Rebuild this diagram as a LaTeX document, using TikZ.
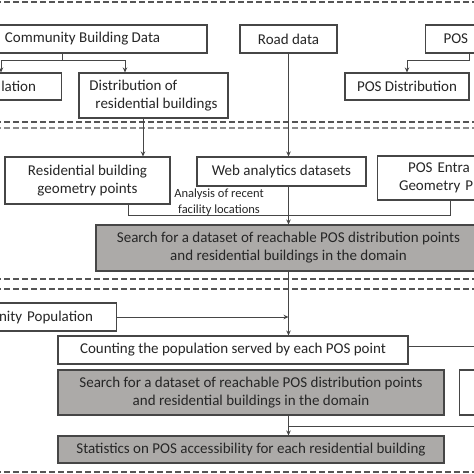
\documentclass[tikz,border=0pt]{standalone}
\usepackage{fontspec}
\setmainfont{Carlito}
\usetikzlibrary{arrows.meta,calc}
\definecolor{edgecol}{RGB}{70,70,70}
\definecolor{boxgray}{RGB}{172,170,168}
\definecolor{sepdark}{RGB}{85,85,85}
\definecolor{seplight}{RGB}{140,140,140}
\begin{document}
\begin{tikzpicture}[x=1pt,y=-1pt,
  box/.style={draw=edgecol,line width=1.1pt,fill=white,inner sep=0pt,align=center,font=\fontsize{15}{18}\selectfont,text=black!85},
  graybox/.style={box,fill=boxgray},
  conn/.style={draw=edgecol,line width=0.9pt},
  arr/.style={conn,-{Stealth[length=5pt,width=4.5pt]}},
  sepd/.style={draw=sepdark,line width=2pt,dash pattern=on 6pt off 3pt},
  sepl/.style={draw=seplight,line width=1.2pt,dash pattern=on 6pt off 3pt},
  anatext/.style={font=\fontsize{12.5}{16}\selectfont,text=black!85,inner sep=0pt,align=center}]
\useasboundingbox (0,0) rectangle (474,474);
\clip (0,0) rectangle (474,474);
% separators
\draw[sepd] (-5,1.5) -- (480,1.5);
\draw[sepd] (-5,121.5) -- (480,121.5);
\draw[sepl] (-5,128) -- (480,128);
\draw[sepd] (-5,279) -- (480,279);
\draw[sepd] (-5,288.5) -- (480,288.5);
\draw[sepd] (-5,472) -- (480,472);
% panel 1
\node[box,minimum width=249,minimum height=28] (cbd) at (82.5,39) {Community Building Data};
\node[box,minimum width=97,minimum height=28] (road) at (288.5,39) {Road data};
\node[box,anchor=west,minimum height=28,text width=90,inner xsep=18,align=left] (posd) at (425,39) {POS};
\node[box,anchor=east,minimum height=27,text width=90,inner xsep=25.5,align=right] (popl) at (62,86.5) {lation};
\node[box,minimum width=149,minimum height=45,align=left] (dist) at (153.5,95.5) {Distribution of\\\hspace*{6pt}residential buildings};
\node[box,minimum width=124,minimum height=27] (posdist) at (407,86.5) {POS Distribution};
% panel 2
\node[box,minimum width=165,minimum height=47] (resgeo) at (87.5,180.5) {Residential building\\geometry points};
\node[box,minimum width=169,minimum height=29] (web) at (281.5,171.5) {Web analytics datasets};
\node[box,anchor=west,minimum height=44,text width=90,inner xsep=21.5,align=left] (posent) at (377,178) {\hspace*{9pt}POS Entra\\Geometry P};
\node[anatext] (ana) at (219,202) {Analysis of recent\\facility locations};
\node[graybox,minimum width=385,minimum height=46] (search1) at (288.5,248) {Search for a dataset of reachable POS distribution points\\and residential buildings in the domain};
% panel 3
\node[box,anchor=east,minimum height=28,text width=100,inner xsep=23.5,align=right] (compop) at (117,317) {nity Population};
\node[box,minimum width=350,minimum height=28] (count) at (233,350) {Counting the population served by each POS point};
\node[graybox,minimum width=386,minimum height=45] (search2) at (251,392.5) {Search for a dataset of reachable POS distribution points\\and residential buildings in the domain};
\node[box,anchor=west,minimum width=100,minimum height=45] (rbox) at (459,392.5) {};
\node[graybox,minimum width=386,minimum height=27] (stats) at (251,449.5) {Statistics on POS accessibility for each residential building};
% connectors panel 1
\coordinate (j1) at (62,60);
\coordinate (jl) at (1,60);
\coordinate (jr) at (125,60);
\draw[arr] (j1 |- cbd.south) -- (j1) -| (jr |- dist.north);
\draw[arr] (j1) -| (jl |- popl.north);
\draw[arr] (road.south) -- (road.south |- web.north);
\coordinate (pj) at (469,60);
\draw[arr] (pj |- posd.south) -- (pj) -| (posdist.north);
\coordinate (dx) at (143,0);
\draw[arr] (dx |- dist.south) -- (dx |- resgeo.north);
% connectors panel 2
\coordinate (hl) at (128,215);
\coordinate (hr) at (450,215);
\draw[conn] (hl |- resgeo.south) -- (hl) -- (hr) -- (hr |- posent.south);
\draw[arr] (road.south |- web.south) -- (road.south |- search1.north);
% connectors panel 3
\draw[arr] (road.south |- search1.south) -- (road.south |- count.north);
\draw[arr] (compop.east) -- (compop.east -| road.south);
\coordinate (ce) at (490,346);
\draw[conn] (count.east |- ce) -- (ce);
\draw[arr] (road.south |- search2.south) -- (road.south |- stats.north);
\coordinate (se) at (490,426);
\draw[conn] (se) -- (road.south |- se);
\end{tikzpicture}
\end{document}
